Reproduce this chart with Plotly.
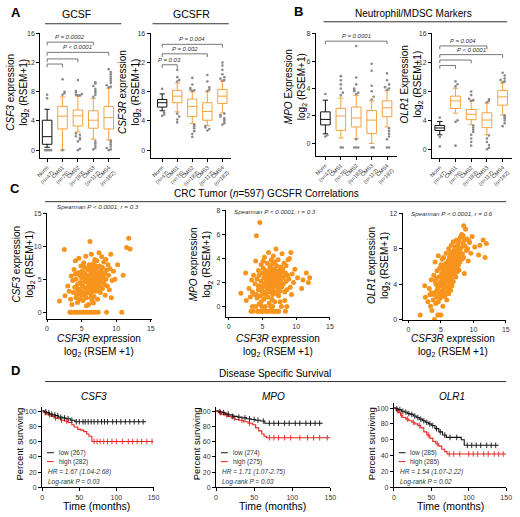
import plotly.graph_objects as go

W, H = 520, 517
FONT = "Liberation Sans, Arial, sans-serif"
ORANGE = "#F6A23E"
DOT = "#F7941D"
GRAY = "#8a8a8a"
RED = "#E8231F"
BLACK = "#111111"

# ---------------- DATA ----------------
box_labels = ["Norm<br>(n=47)", "CMS1<br>(n=76)", "CMS2<br>(n=183)", "CMS3<br>(n=112)", "CMS4<br>(n=182)"]

# Panel A - CSF3
csf3_q1 = [0.8, 2.9, 3.3, 3.0, 2.9]
csf3_med = [1.85, 4.65, 4.7, 4.1, 4.45]
csf3_q3 = [4.1, 6.0, 5.5, 5.4, 6.0]
csf3_lo = [0.4, 0.0, 2.5, 1.5, 1.4]
csf3_hi = [5.6, 7.3, 7.4, 7.1, 8.5]
csf3_out = [
    [7.6, 7.1, 0, 0, 0, 0],
    [9.7, 8.0, 7.8, 7.6, 0],
    [9.6, 8.1, 7.9, 7.7, 7.6, 7.5, 7.5, 2.3, 2.1, 1.9, 1.7, 1.5, 1.2, 0.2, 0],
    [9.3, 9.1, 8.8, 8.4, 8.1, 7.9, 7.6, 7.3, 1.2, 0.9, 0.6, 0.3, 0.1],
    [11.1, 10.7, 10.4, 10.1, 9.8, 9.5, 9.2, 8.9, 8.7, 8.6, 1.3, 1.1, 0.8, 0.5, 0.3, 0.1, 0],
]
csf3_brackets = [(4, 13.4, "P < 0.0001"), (3, 14.8, "P = 0.0002"), (2, 12.5, ""), (1, 11.8, "")]

# Panel A - CSF3R
csf3r_q1 = [5.9, 6.5, 4.6, 4.1, 6.4]
csf3r_med = [6.5, 7.4, 6.0, 5.3, 7.4]
csf3r_q3 = [6.95, 8.2, 7.0, 6.5, 8.3]
csf3r_lo = [5.4, 5.25, 3.65, 3.35, 5.1]
csf3r_hi = [7.7, 9.2, 8.0, 8.0, 9.45]
csf3r_out = [
    [8.4, 5.2, 4.9, 4.7],
    [11.0, 10.0, 9.6, 9.4, 5.0, 4.6, 4.2, 3.8],
    [9.9, 9.0, 8.5, 8.3, 8.2, 8.1, 3.5, 3.3, 3.0, 2.6, 2.2, 1.8],
    [10.3, 9.4, 8.6, 8.3, 8.1, 3.3, 3.1, 2.9, 2.7],
    [12.0, 11.6, 11.0, 10.4, 10.0, 9.8, 9.6, 9.5, 5.0, 4.8, 4.6, 4.4, 4.2, 4.0, 3.7, 3.5],
]
csf3r_brackets = [(4, 14.5, "P = 0.004"), (3, 13.2, "P = 0.002"), (1, 11.7, "P = 0.03")]

# Panel B - MPO
mpo_q1 = [1.35, 0.95, 1.2, 0.72, 1.95]
mpo_med = [1.75, 2.0, 1.85, 1.7, 2.6]
mpo_q3 = [2.3, 2.55, 2.65, 2.4, 3.1]
mpo_lo = [0.7, 0.4, 0.35, 0.0, 1.2]
mpo_hi = [3.15, 3.3, 3.5, 3.1, 3.85]
mpo_out = [
    [3.6, 0.6, 0.5],
    [4.9, 4.6, 4.3, 4.0, 3.7, 3.5, -0.3, -0.3],
    [7.1, 4.8, 4.3, 4.0, 3.9, 3.8, 3.7, 3.6, 0.3, -0.3, -0.3, -0.3],
    [5.8, 5.3, 4.2, 3.8, 3.4, 3.2, -0.3, -0.3],
    [5.1, 4.6, 4.3, 4.1, 4.0, 3.9, 1.1, 0.9, 0.7, 0.5, 0.3, -0.3, -0.3],
]
mpo_brackets = [(4, 7.45, "P = 0.0001")]

# Panel B - OLR1
olr1_q1 = [2.6, 5.65, 4.1, 3.0, 6.1]
olr1_med = [2.95, 6.7, 4.85, 4.05, 7.25]
olr1_q3 = [3.3, 7.35, 5.5, 5.05, 8.15]
olr1_lo = [2.0, 5.0, 3.4, 2.0, 4.75]
olr1_hi = [3.85, 8.45, 6.65, 6.4, 9.15]
olr1_out = [
    [4.4, 1.7, 0.4],
    [9.4, 9.0, 8.7, 4.0, 3.8, 0.5],
    [8.0, 7.5, 7.0, 6.8, 6.7, 3.3, 3.0, 2.7, 2.4, 2.0, 1.5, 1.0, 0.5],
    [6.9, 6.7, 6.5, 1.9, 1.5, 1.0, 0.6, 0.2, 0.0],
    [10.6, 10.2, 9.8, 9.6, 9.4, 9.3, 4.7, 4.5, 4.3, 4.0, 3.6, 3.2],
]
olr1_brackets = [(3, 14.3, "P = 0.004"), (4, 13.1, "P < 0.0001"), (2, 12.35, ""), (1, 11.6, "")]

# Panel C - tumour samples (CSF3R on x for all three)
tumor_csf3r = [
    1.8, 2.5, 2.6, 3.0, 3.2, 3.4, 3.5, 3.6, 3.7, 3.8,
    3.9, 4.0, 4.0, 4.1, 4.2, 4.2, 4.3, 4.4, 4.4, 4.5,
    4.5, 4.6, 4.6, 4.7, 4.7, 4.8, 4.8, 4.9, 4.9, 5.0,
    5.0, 5.1, 5.1, 5.2, 5.2, 5.3, 5.3, 5.4, 5.4, 5.5,
    5.5, 5.6, 5.6, 5.7, 5.7, 5.8, 5.8, 5.9, 5.9, 6.0,
    6.0, 6.0, 6.1, 6.1, 6.2, 6.2, 6.2, 6.3, 6.3, 6.3,
    6.4, 6.4, 6.4, 6.5, 6.5, 6.5, 6.5, 6.6, 6.6, 6.7,
    6.7, 6.7, 6.8, 6.8, 6.8, 6.9, 6.9, 7.0, 7.0, 7.0,
    7.1, 7.1, 7.2, 7.2, 7.3, 7.3, 7.4, 7.4, 7.5, 7.5,
    7.6, 7.6, 7.7, 7.7, 7.8, 7.8, 7.9, 7.9, 8.0, 8.0,
    8.1, 8.2, 8.2, 8.3, 8.4, 8.5, 8.5, 8.6, 8.7, 8.8,
    8.9, 9.0, 9.1, 9.2, 9.4, 9.6, 9.8, 10.2, 10.8, 11.0,
    11.5, 11.8, 12.0, 3.3, 4.1, 5.0, 5.8, 6.6, 7.4, 8.6,
    5.3, 5.6, 5.9, 6.1, 6.3, 6.5, 6.8, 7.0, 7.2, 7.5,
    4.4, 4.8, 5.2, 5.7, 6.0, 6.4, 6.9, 7.3, 7.8, 8.3,
    3.5, 4.3, 5.1, 5.5, 6.2, 6.7, 7.1, 7.6, 8.4, 9.3,
]
tumor_csf3 = [
    1.7, 9.5, 2.5, 4.0, 3.2, 2.0, 5.5, 1.2, 4.8, 3.0,
    6.5, 0.0, 3.8, 7.8, 2.2, 5.0, 0.0, 4.2, 1.5, 6.0,
    2.8, 8.2, 3.5, 5.6, 0.0, 4.5, 2.0, 7.0, 3.2, 5.2,
    0.0, 4.0, 6.2, 1.8, 3.0, 5.8, 7.5, 0.0, 4.6, 2.5,
    6.8, 3.6, 8.5, 4.8, 2.2, 5.5, 0.0, 3.9, 6.5, 4.3,
    1.2, 5.0, 7.2, 3.4, 4.6, 0.0, 10.7, 5.8, 2.8, 6.2,
    4.2, 8.8, 3.0, 5.4, 1.8, 6.8, 4.0, 0.0, 5.6, 3.6,
    7.4, 4.8, 2.4, 5.2, 6.4, 4.4, 8.0, 3.2, 5.8, 0.0,
    4.6, 6.6, 3.8, 7.8, 5.0, 2.0, 6.0, 4.2, 5.5, 9.0,
    4.0, 7.0, 5.6, 3.0, 6.2, 4.8, 8.4, 5.2, 3.6, 6.8,
    5.4, 4.4, 7.6, 6.0, 2.6, 5.0, 8.0, 6.4, 4.0, 7.2,
    5.6, 3.4, 6.6, 8.8, 4.8, 6.2, 5.0, 7.2, 0.0, 5.6,
    9.8, 11.2, 9.6, 0.0, 5.8, 2.6, 3.0, 6.0, 0.0, 0.0,
    3.8, 5.2, 4.6, 3.0, 4.4, 5.0, 3.4, 4.8, 4.2, 3.2,
    3.4, 6.0, 5.4, 1.0, 6.6, 2.2, 5.6, 6.8, 4.6, 4.2,
    0.0, 2.6, 7.0, 5.9, 3.6, 1.4, 7.0, 5.8, 5.9, 2.2,
]
tumor_mpo = [
    1.1, 2.8, 0.5, 1.5, 0.8, 2.2, 1.2, -0.4, 2.6, 1.0,
    1.9, 0.0, 3.8, 5.9, 0.7, 2.3, -0.4, 1.4, 3.0, 0.2,
    2.6, 7.0, 1.7, 0.9, -0.4, 2.1, 3.5, 1.3, 0.0, 2.8,
    1.6, -0.4, 3.2, 2.4, 0.6, 1.9, 4.1, 0.0, 2.7, 1.1,
    3.0, 2.2, -0.4, 1.5, 3.6, 0.8, 2.5, 1.9, 4.5, 0.3,
    2.0, 1.2, 3.3, 2.6, -0.4, 1.7, 0.0, 2.9, 1.4, 3.9,
    2.2, 0.6, 3.5, 1.0, 2.8, 0.0, 2.0, 4.2, 1.6, -0.4,
    3.1, 1.9, 2.5, 0.4, 3.7, 2.3, 1.2, 2.9, 4.8, 1.8,
    2.1, 3.4, -0.4, 2.7, 1.5, 3.9, 2.4, 0.9, 3.0, 2.0,
    2.6, 1.3, 3.3, 2.2, 0.0, 2.9, 1.7, 4.4, 2.4, 3.1,
    1.9, 3.6, 2.5, 0.5, 2.8, 2.1, 3.4, 1.4, 2.6, 3.9,
    2.3, 4.0, 1.6, 4.5, 2.7, 2.0, 3.1, 2.4, 1.5, 2.2,
    2.8, 2.0, 2.4, -0.4, 1.0, -0.4, -0.4, -0.4, -0.4, 0.0,
    1.0, 1.8, 2.6, 1.4, 2.3, 1.3, 2.0, 1.1, 1.8, 1.6,
    1.7, 0.4, 1.2, 2.9, 2.7, 1.5, 3.0, 1.0, 1.6, 1.2,
    0.0, -0.4, 3.8, -0.4, 3.0, 2.6, -0.4, 0.4, -0.4, 1.0,
]
tumor_olr1 = [
    0.5, 3.8, 2.5, 2.0, 3.5, 1.5, 4.5, 1.0, 3.0, 2.2,
    5.0, 0.0, 2.8, 6.5, 1.8, 4.0, 3.2, 2.5, 5.5, 0.5,
    3.5, 7.2, 2.0, 4.8, 0.5, 3.0, 5.8, 4.2, 2.4, 6.2,
    3.8, 5.2, 2.8, 6.8, 4.5, 1.5, 5.6, 3.4, 7.0, 4.0,
    5.9, 2.6, 4.9, 6.3, 3.7, 5.3, 7.5, 4.4, 2.2, 6.0,
    4.8, 3.2, 6.6, 5.4, 4.1, 8.0, 2.9, 5.7, 7.0, 3.6,
    6.2, 4.5, 5.0, 7.6, 3.3, 5.9, 6.8, 4.6, 8.4, 5.2,
    6.0, 3.8, 7.2, 5.5, 6.5, 4.3, 8.8, 6.9, 5.8, 7.8,
    6.4, 5.0, 7.5, 8.2, 6.1, 4.8, 7.0, 9.0, 6.6, 5.4,
    7.3, 8.5, 6.2, 7.9, 5.6, 8.9, 7.0, 6.5, 9.3, 7.6,
    8.1, 6.8, 9.6, 7.4, 8.6, 10.6, 7.0, 9.0, 8.3, 10.2,
    7.8, 9.1, 8.0, 6.6, 8.7, 7.5, 9.4, 8.2, 7.3, 8.4,
    9.0, 7.0, 8.6, 2.8, 4.4, 0.5, 4.7, 3.9, 6.3, 5.2,
    4.2, 3.5, 5.1, 6.3, 4.9, 5.3, 6.0, 5.2, 6.8, 6.0,
    3.9, 2.7, 3.3, 5.0, 5.6, 7.3, 6.7, 5.7, 7.7, 6.9,
    3.0, 4.6, 4.9, 2.9, 6.6, 6.4, 6.1, 8.1, 9.5, 8.9,
]

# Panel D - Kaplan-Meier steps (months, % surviving)
csf3_low_t = [0, 3, 6, 10, 14, 18, 22, 27, 32, 38, 44, 140]
csf3_low_s = [100, 99, 98, 96, 95, 94, 92, 91, 90, 88, 86, 86]
csf3_high_t = [0, 2, 5, 8, 12, 16, 20, 25, 30, 35, 40, 43, 48, 52, 56, 60, 63, 67, 150]
csf3_high_s = [100, 98, 96, 95, 93, 91, 90, 88, 87, 85, 82, 79, 76, 75, 73, 70, 67, 60, 60]
csf3_low_cens = [5, 9, 13, 17, 21, 25, 30, 35, 40, 46, 50, 55, 58, 62, 66, 70, 75, 80, 84, 88, 95, 100, 106, 112, 118, 124, 130, 136]
csf3_high_cens = [4, 10, 18, 26, 33, 70, 74, 78, 83, 88, 94, 100, 108, 116, 122, 128, 134, 141, 148]

mpo_low_t = [0, 4, 8, 12, 17, 22, 28, 34, 40, 46, 52, 58, 64, 140]
mpo_low_s = [100, 99, 98, 96, 95, 93, 92, 91, 90, 89, 88, 87, 84, 84]
mpo_high_t = [0, 3, 7, 11, 15, 20, 25, 30, 36, 42, 48, 52, 56, 60, 63, 66, 150]
mpo_high_s = [100, 98, 96, 95, 93, 91, 89, 88, 86, 84, 82, 78, 74, 70, 67, 65, 65]
mpo_low_cens = [5, 10, 16, 22, 30, 38, 44, 50, 55, 62, 70, 76, 82, 90, 96, 104, 110, 118, 124, 130, 136]
mpo_high_cens = [6, 14, 24, 34, 44, 70, 76, 82, 90, 98, 110, 120, 128, 136, 146]

olr1_low_t = [0, 3, 6, 10, 14, 18, 22, 26, 30, 34, 38, 42, 46, 50, 55, 60, 65, 70, 90, 94, 140]
olr1_low_s = [100, 99, 98, 96, 95, 93, 92, 90, 88, 86, 84, 82, 80, 78, 74, 70, 66, 63, 60, 53, 53]
olr1_high_t = [0, 3, 6, 9, 12, 16, 20, 24, 28, 32, 36, 40, 44, 48, 52, 56, 60, 64, 68, 71, 150]
olr1_high_s = [100, 97, 94, 91, 88, 86, 84, 82, 80, 78, 75, 70, 66, 62, 58, 55, 52, 48, 45, 42, 42]
olr1_low_cens = [4, 8, 12, 16, 20, 24, 28, 32, 36, 40, 44, 48, 52, 57, 62, 68, 75, 84, 98, 104, 110, 116, 124, 130, 136]
olr1_high_cens = [5, 10, 18, 26, 34, 46, 58, 74, 80, 88, 100, 106, 112, 120, 126, 134, 140, 146]

# ---------------- HELPERS ----------------
def dx(a, b):
    return [a / W, b / W]

def dy(top, bottom):
    return [1 - bottom / H, 1 - top / H]

annotations = []
shapes = []

def ann(x, y, text, size=10, xanchor="center", yanchor="middle", angle=0, color="black"):
    annotations.append(dict(x=x / W, y=1 - y / H, xref="paper", yref="paper", text=text,
                            showarrow=False, xanchor=xanchor, yanchor=yanchor, textangle=angle,
                            font=dict(size=size, color=color, family=FONT)))

def hline(x0, x1, y, color="#333", width=1):
    shapes.append(dict(type="line", xref="paper", yref="paper", x0=x0 / W, x1=x1 / W,
                       y0=1 - y / H, y1=1 - y / H, line=dict(color=color, width=width)))

def axis(dom, rng, tickvals, ticktext=None, tfs=7, angle=None, anchor=None, ticklen=3):
    d = dict(domain=dom, range=rng, showline=True, linecolor="black", linewidth=1,
             ticks="outside", ticklen=ticklen, tickwidth=1, tickcolor="black", showgrid=False,
             zeroline=False, tickvals=tickvals, tickfont=dict(size=tfs, color="#333", family=FONT),
             fixedrange=True, anchor=anchor)
    if ticktext is not None:
        d["ticktext"] = ticktext
    if angle is not None:
        d["tickangle"] = angle
    return d

def swarm(center, vals, yspan, step=0.13):
    xs, ys, placed = [], [], []
    for v in sorted(vals):
        k = sum(1 for p in placed if abs(p - v) < yspan)
        off = ((k + 1) // 2) * step * (1 if k % 2 else -1) if k else 0
        placed.append(v)
        xs.append(center + off)
        ys.append(v)
    return xs, ys

def surv_at(t, times, s):
    val = s[0]
    for ti, si in zip(times, s):
        if ti <= t:
            val = si
    return val

fig = go.Figure()
layout = dict(width=W, height=H, margin=dict(l=0, r=0, t=0, b=0), showlegend=False,
              plot_bgcolor="white", paper_bgcolor="white", font=dict(family=FONT),
              boxmode="overlay")

# ---------------- BOX PANELS ----------------
box_panels = [
    (1, csf3_q1, csf3_med, csf3_q3, csf3_lo, csf3_hi, csf3_out, csf3_brackets,
     dx(35, 117), dy(30, 157), [-0.45, 4.75], [-1.1, 16.1], [0, 4, 8, 12, 16], 0.4, 0.45),
    (2, csf3r_q1, csf3r_med, csf3r_q3, csf3r_lo, csf3r_hi, csf3r_out, csf3r_brackets,
     dx(148, 230), dy(30, 157), [-0.77, 4.55], [-1.1, 16.1], [0, 4, 8, 12, 16], 0.4, 0.45),
    (3, mpo_q1, mpo_med, mpo_q3, mpo_lo, mpo_hi, mpo_out, mpo_brackets,
     dx(317, 400), dy(30, 155), [-0.63, 4.63], [-0.93, 8.07], [0, 2, 4, 6, 8], 0.22, 0.22),
    (4, olr1_q1, olr1_med, olr1_q3, olr1_lo, olr1_hi, olr1_out, olr1_brackets,
     dx(436, 518), dy(30, 157), [-0.5, 4.6], [-1.23, 16.14], [0, 4, 8, 12, 16], 0.4, 0.45),
]

for (i, q1, med, q3, lo, hi, outs, brackets, xd, yd, xr, yr, yt, span, tick) in box_panels:
    xa, ya = f"x{i}", f"y{i}"
    for k in range(5):
        col = BLACK if k == 0 else ORANGE
        ox, oy = swarm(k, outs[k], span)
        fig.add_trace(go.Scatter(x=ox, y=oy, mode="markers", xaxis=xa, yaxis=ya,
                                 marker=dict(size=2.6, color=GRAY), hoverinfo="skip"))
        fig.add_trace(go.Box(x=[k], q1=[q1[k]], median=[med[k]], q3=[q3[k]],
                             lowerfence=[lo[k]], upperfence=[hi[k]], xaxis=xa, yaxis=ya,
                             width=0.62, whiskerwidth=0.55, fillcolor="rgba(255,255,255,0)",
                             line=dict(color=col, width=1), boxpoints=False))
    for (x1, yv, lab) in brackets:
        shapes.append(dict(type="path", xref=xa, yref=ya,
                           path=f"M 0,{yv - tick} L 0,{yv} L {x1},{yv} L {x1},{yv - tick}",
                           line=dict(color="#555", width=0.8)))
        if lab:
            annotations.append(dict(x=x1 / 2, y=yv, xref=xa, yref=ya, text=f"<i>{lab}</i>",
                                    showarrow=False, yanchor="bottom", yshift=0,
                                    font=dict(size=6, color="#333", family=FONT)))
    layout[f"xaxis{i}"] = axis(xd, xr, [0, 1, 2, 3, 4], box_labels, tfs=5.5, angle=-45, anchor=ya)
    layout[f"yaxis{i}"] = axis(yd, yr, yt, anchor=xa)

# ---------------- SCATTER PANELS ----------------
scatter_panels = [
    (5, tumor_csf3, dx(42, 149), dy(212, 320), [0, 15.1], [-1.05, 15.1], [0, 5, 10, 15], "0.3", 50, 206),
    (6, tumor_mpo, dx(225, 332), dy(209, 318), [-0.43, 15.05], [-0.9, 8.08], [0, 2, 4, 6, 8], "0.3", 231, 211),
    (7, tumor_olr1, dx(406, 512), dy(212, 321), [-0.9, 15.05], [-0.1, 12.1], [0, 4, 8, 12], "0.6", 413, 213),
]
for (i, yvals, xd, yd, xr, yr, yt, r, tx, ty) in scatter_panels:
    xa, ya = f"x{i}", f"y{i}"
    fig.add_trace(go.Scatter(x=tumor_csf3r, y=yvals, mode="markers", xaxis=xa, yaxis=ya,
                             marker=dict(size=5, color=DOT), hoverinfo="skip"))
    layout[f"xaxis{i}"] = axis(xd, xr, [0, 5, 10, 15], anchor=ya, ticklen=2)
    layout[f"yaxis{i}"] = axis(yd, yr, yt, anchor=xa)
    ann(tx, ty, f"<i>Spearman P &lt; 0.0001, r = {r}</i>", size=6.2, xanchor="left", color="#333")

# ---------------- KM PANELS ----------------
km_panels = [
    (8, csf3_low_t, csf3_low_s, csf3_high_t, csf3_high_s, csf3_low_cens, csf3_high_cens,
     dx(37, 151), dy(409, 490), [0, 105]),
    (9, mpo_low_t, mpo_low_s, mpo_high_t, mpo_high_s, mpo_low_cens, mpo_high_cens,
     dx(215, 332), dy(409, 490), [0, 105]),
    (10, olr1_low_t, olr1_low_s, olr1_high_t, olr1_high_s, olr1_low_cens, olr1_high_cens,
     dx(397, 512), dy(405, 490), [0, 106]),
]
for (i, lt, ls, ht, hs, lc, hc, xd, yd, yr) in km_panels:
    xa, ya = f"x{i}", f"y{i}"
    for (t, s, c, col) in [(ht, hs, hc, RED), (lt, ls, lc, BLACK)]:
        fig.add_trace(go.Scatter(x=t, y=s, mode="lines", line=dict(color=col, width=1.1, shape="hv"),
                                 xaxis=xa, yaxis=ya, hoverinfo="skip"))
        fig.add_trace(go.Scatter(x=c, y=[surv_at(v, t, s) for v in c], mode="markers",
                                 marker=dict(symbol="line-ns", size=4, line=dict(color=col, width=0.9)),
                                 xaxis=xa, yaxis=ya, hoverinfo="skip"))
    layout[f"xaxis{i}"] = axis(xd, [0, 150], [0, 50, 100, 150], anchor=ya)
    layout[f"yaxis{i}"] = axis(yd, yr, [0, 20, 40, 60, 80, 100], anchor=xa)

# ---------------- TEXT ----------------
ann(3, 10, "<b>A</b>", size=13, xanchor="left")
ann(72, 11, "GCSF", size=10.5)
hline(40, 118, 21)
ann(190, 11, "GCSFR", size=10.5)
hline(150, 228, 21)
ann(293, 9, "<b>B</b>", size=13, xanchor="left")
ann(417, 11, "Neutrophil/MDSC Markers", size=10)
hline(325, 513, 19)

ann(12, 90, "<i>CSF3</i> expression<br>log<sub>2</sub> (RSEM+1)", size=10, angle=-90)
ann(127, 90, "<i>CSF3R</i> expression<br>log<sub>2</sub> (RSEM+1)", size=10, angle=-90)
ann(296, 85, "<i>MPO</i> Expression<br>log<sub>2</sub> (RSEM+1)", size=10, angle=-90)
ann(415, 82, "<i>OLR1</i> Expression<br>log<sub>2</sub> (RSEM+1)", size=10, angle=-90)

ann(2, 188, "<b>C</b>", size=13, xanchor="left")
ann(267, 193, "CRC Tumor (<i>n</i>=597) GCSFR Correlations", size=10)
hline(40, 512, 201)
ann(18, 264, "<i>CSF3</i> expression<br>log<sub>2</sub> (RSEM+1)", size=10, angle=-90)
ann(200, 264, "<i>MPO</i> expression<br>log<sub>2</sub> (RSEM+1)", size=10, angle=-90)
ann(382, 266, "<i>OLR1</i> expression<br>log<sub>2</sub> (RSEM+1)", size=10, angle=-90)
for cx in (95, 278, 458):
    ann(cx, 347, "<i>CSF3R</i> expression<br>log<sub>2</sub> (RSEM +1)", size=10)

ann(3, 372, "<b>D</b>", size=13, xanchor="left")
ann(275, 375, "Disease Specific Survival", size=10)
hline(40, 512, 383)
ann(90, 398, "<i>CSF3</i>", size=10)
ann(274, 398, "<i>MPO</i>", size=10)
ann(457, 398, "<i>OLR1</i>", size=10)
for cx in (14, 195, 374):
    ann(cx, 446, "Percent surviving", size=9.5, angle=-90)
for cx in (93, 273, 455):
    ann(cx, 509, "Time (months)", size=10.5)

km_legend = [
    (42, "low (267)", "high (282)", "HR = 1.67 (1.04-2.68)", "Log-rank P = 0.03"),
    (220, "low (274)", "high (275)", "HR = 1.71 (1.07-2.75)", "Log-rank P = 0.03"),
    (402, "low (285)", "high (285)", "HR = 1.54 (1.07-2.22)", "Log-rank P = 0.02"),
]
for (lx, low, high, hr, lr) in km_legend:
    hline(lx, lx + 7, 455, color=BLACK, width=1)
    hline(lx, lx + 7, 464, color=RED, width=1)
    ann(lx + 10, 455, low, size=6.5, xanchor="left", color="#333")
    ann(lx + 10, 464, high, size=6.5, xanchor="left", color="#333")
    ann(lx - 1, 475, f"<i>{hr}</i>", size=6.5, xanchor="left", color="#333")
    ann(lx - 1, 485, f"<i>{lr}</i>", size=6.5, xanchor="left", color="#333")

layout["annotations"] = annotations
layout["shapes"] = shapes
fig.update_layout(**layout)
fig.write_html("out.html", config={"displayModeBar": False},
               post_script="document.body.style.margin='0px';document.body.style.overflow='hidden';")
